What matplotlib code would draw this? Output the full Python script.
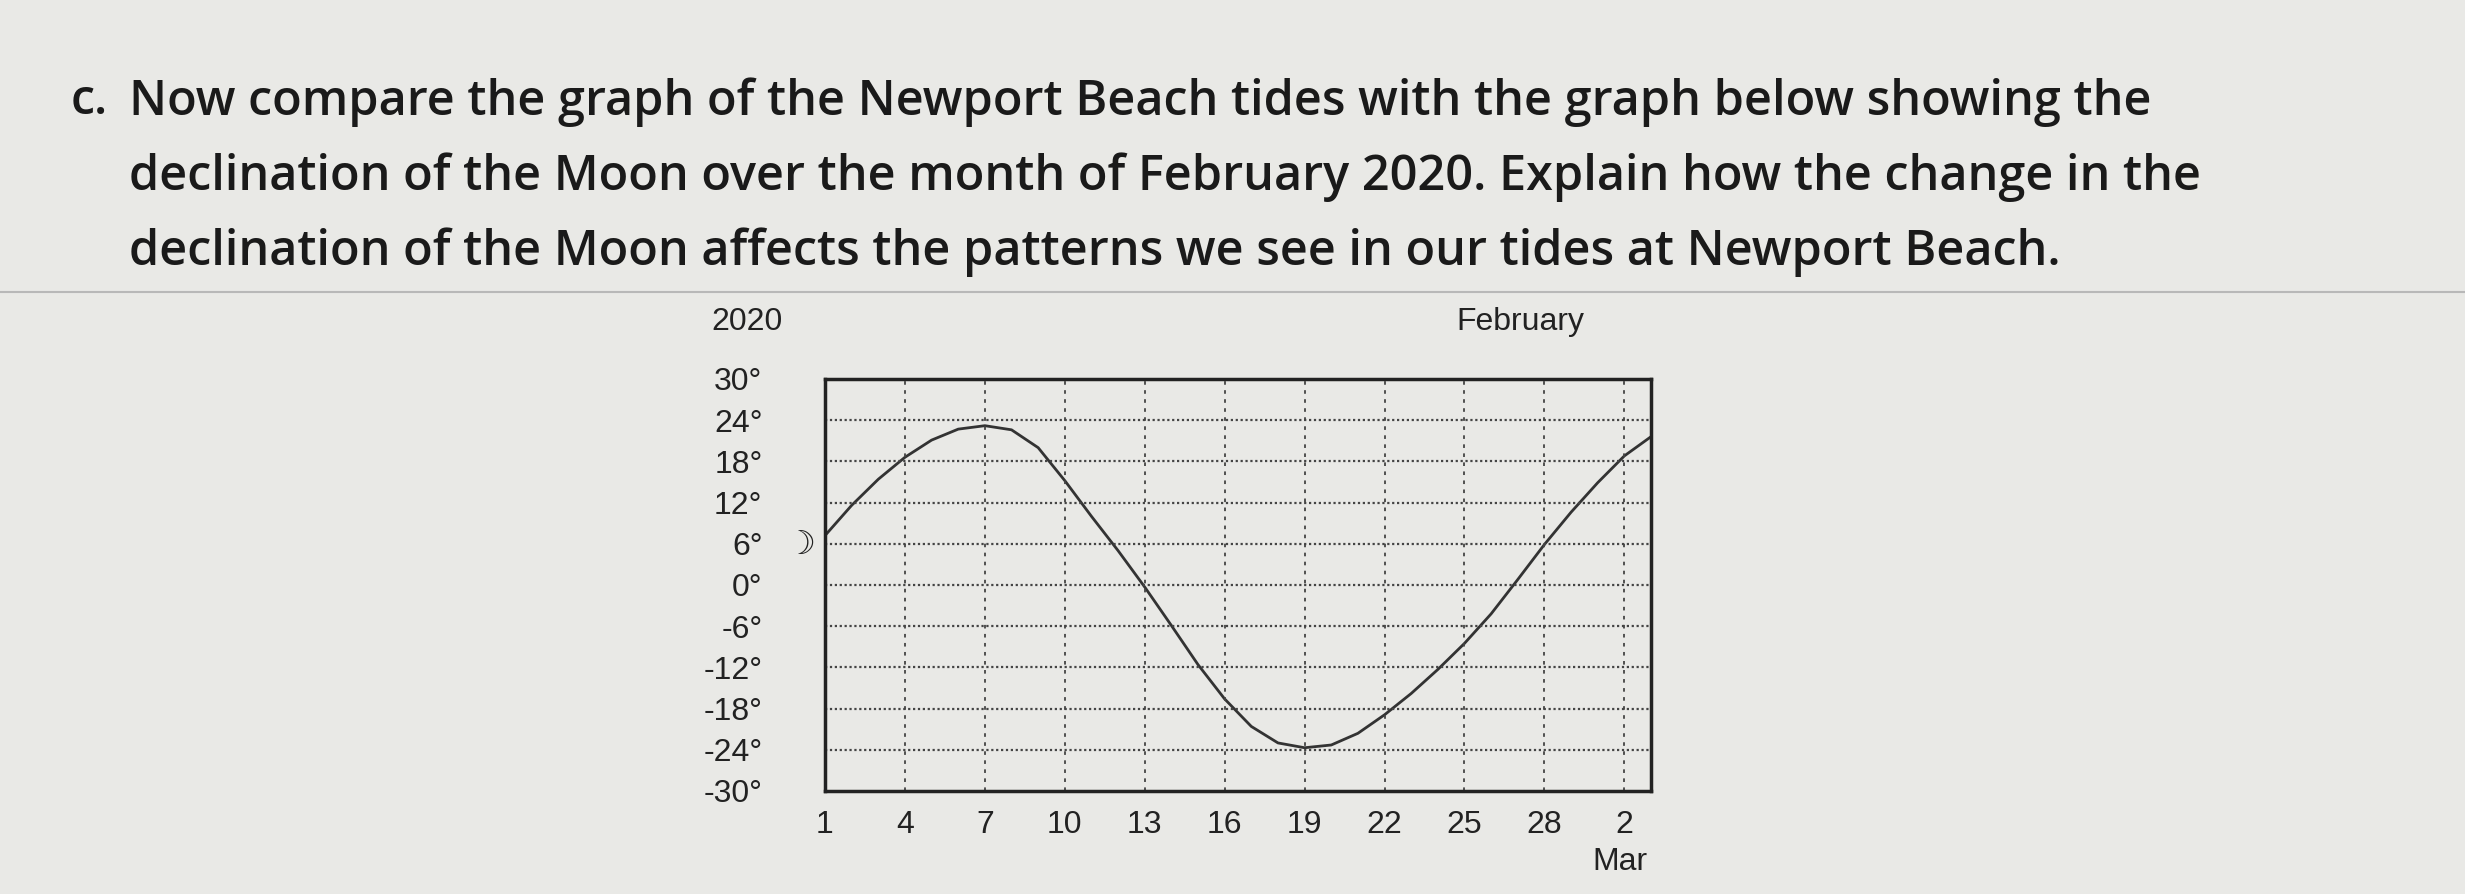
import matplotlib
matplotlib.use("Agg")
import matplotlib.pyplot as plt

days = list(range(1, 33))
declination = [7.2, 11.6, 15.4, 18.6, 21.1, 22.7, 23.2, 22.6, 20.0, 15.2, 10.0, 5.0,
               -0.3, -5.9, -11.6, -16.6, -20.6, -23.0, -23.7, -23.3, -21.6, -18.9,
               -15.8, -12.3, -8.5, -4.2, 0.8, 5.9, 10.6, 14.9, 18.8, 21.6]
xticks = [1, 4, 7, 10, 13, 16, 19, 22, 25, 28, 31]
xticklabels = ["1", "4", "7", "10", "13", "16", "19", "22", "25", "28", "2"]
yticks = [30, 24, 18, 12, 6, 0, -6, -12, -18, -24, -30]
yticklabels = [f"{v}°" for v in yticks]
heading = ["Now compare the graph of the Newport Beach tides with the graph below showing the",
           "declination of the Moon over the month of February 2020. Explain how the change in the",
           "declination of the Moon affects the patterns we see in our tides at Newport Beach."]

bg = "#e9e9e6"
fig = plt.figure(figsize=(24.65, 8.94), dpi=100, facecolor=bg)
W, H = 2465, 894
fig.text(71 / W, 1 - 102 / H, "c.", fontsize=35, family="Open Sans", weight="semibold", va="center", color="#1a1a1a")
for i, line in enumerate(heading):
    fig.text(129 / W, 1 - (102 + 75 * i) / H, line, fontsize=35, family="Open Sans", weight="semibold",
             va="center", color="#1a1a1a")
fig.add_artist(plt.Line2D([0, 1], [1 - 292 / H, 1 - 292 / H], color="#b8b8b8", lw=1.5))

ax = fig.add_axes([825 / W, 1 - 791 / H, 826 / W, 412 / H])
ax.set_facecolor(bg)
ax.plot(days, declination, color="#333333", lw=2)
ax.set_xlim(1, 32)
ax.set_ylim(-30, 30)
for x in xticks[1:]:
    ax.axvline(x, color="#444444", lw=1.3, ls=(0, (2, 3)))
for y in yticks[1:-1]:
    ax.axhline(y, color="#444444", lw=1.6, ls=(0, (1, 1.2)))
ax.set_xticks(xticks)
ax.set_xticklabels(xticklabels)
ax.set_yticks(yticks)
ax.set_yticklabels(yticklabels)
ax.tick_params(length=0, labelsize=23, colors="#222222", pad=45)
ax.tick_params(axis="x", pad=14)
for lab in ax.get_xticklabels() + ax.get_yticklabels():
    lab.set_family("Liberation Sans")
for s in ax.spines.values():
    s.set_linewidth(2.5)
    s.set_color("#222222")

fig.text(747 / W, 1 - 322 / H, "2020", fontsize=23, family="Liberation Sans", ha="center", va="center", color="#222222")
fig.text(1520 / W, 1 - 322 / H, "February", fontsize=23, family="Liberation Sans", ha="center", va="center", color="#222222")
fig.text(1620 / W, 1 - 862 / H, "Mar", fontsize=23, family="Liberation Sans", ha="center", va="center", color="#222222")
fig.text(800 / W, 1 - 545 / H, "☽", fontsize=24, family="DejaVu Sans", ha="center", va="center", color="#222222")

fig.savefig("out.png", dpi=100, facecolor=bg)
